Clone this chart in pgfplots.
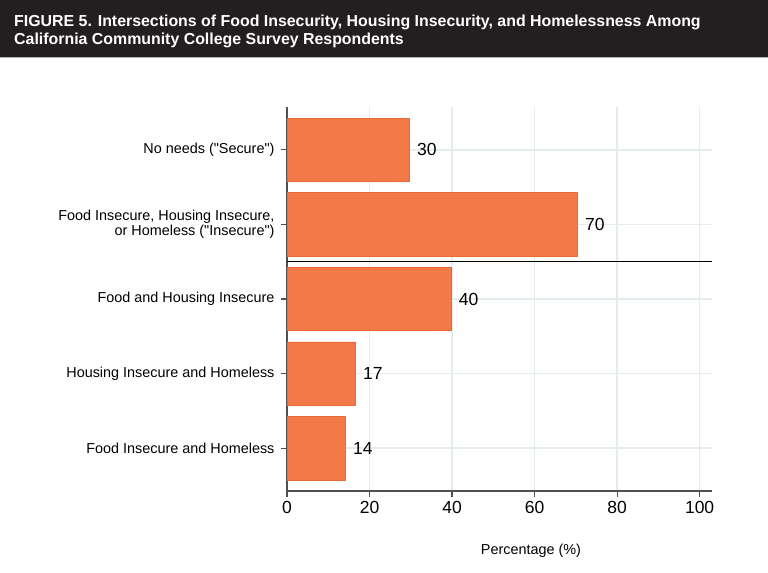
\documentclass[border=0pt]{standalone}
\usepackage{fontspec}
\setmainfont{Liberation Sans}
\usepackage{pgfplots}
\pgfplotsset{compat=1.18}

\definecolor{barfill}{RGB}{243,122,70}
\definecolor{baredge}{RGB}{236,104,55}
\definecolor{gridc}{RGB}{228,236,236}
\definecolor{titlebg}{RGB}{35,31,32}
\definecolor{spine}{RGB}{80,80,80}

\begin{document}
\begin{tikzpicture}
\path[use as bounding box] (0,0) rectangle (768bp,573bp);
% title bar
\fill[titlebg] (0,516bp) rectangle (768bp,573bp);
\draw[gray!60, line width=1bp] (0,515.5bp) -- (768bp,515.5bp);
\node[anchor=base west, text=white, inner sep=0pt,
      font=\fontsize{15.9bp}{18bp}\selectfont\bfseries] at (14bp,546.5bp)
  {FIGURE 5. Intersections of Food Insecurity, Housing Insecurity, and Homelessness Among};
\node[anchor=base west, text=white, inner sep=0pt,
      font=\fontsize{15.9bp}{18bp}\selectfont\bfseries] at (14bp,528.5bp)
  {California Community College Survey Respondents};

\begin{axis}[
    at={(287bp,82bp)}, anchor=south west,
    scale only axis,
    width=425bp, height=384bp,
    xbar,
    bar width=0.85,
    xmin=0, xmax=103,
    ymin=-0.575, ymax=4.575,
    y dir=reverse,
    ytick={0,1,2,3,4},
    yticklabels={{No needs (\textquotedbl Secure\textquotedbl)},
                 {Food Insecure, Housing Insecure,\\or Homeless (\textquotedbl Insecure\textquotedbl)},
                 {Food and Housing Insecure},
                 {Housing Insecure and Homeless},
                 {Food Insecure and Homeless}},
    yticklabel style={align=right, font=\fontsize{14.4bp}{15.5bp}\selectfont},
    xtick={0,20,40,60,80,100},
    xticklabel style={font=\fontsize{17.5bp}{19bp}\selectfont},
    /pgf/number format/assume math mode=true,
    axis lines*=left,
    axis line style={spine, line width=1.3bp, -},
    tick style={spine, line width=1.2bp},
    tick align=outside,
    major tick length=6bp,
    grid=major,
    grid style={gridc, line width=1.3bp},
    ytick pos=left, xtick pos=bottom,
    y tick label style={xshift=-3bp},
    x tick label style={yshift=-1bp},
    nodes near coords,
    point meta=explicit,
    nodes near coords style={font=\fontsize{17.5bp}{19bp}\selectfont, anchor=west, xshift=4bp,
        /pgf/number format/.cd, fixed, precision=0, assume math mode=true},
]
\addplot[fill=barfill, draw=baredge, line width=0.6bp] coordinates {
    (29.7,0) [29.7]
    (70.4,1) [70.4]
    (39.8,2) [39.8]
    (16.6,3) [16.6]
    (14.2,4) [14.2]
};
\draw[black, line width=1.3bp] (axis cs:0,1.5) -- (axis cs:103,1.5);
\end{axis}
\node[font=\fontsize{14.4bp}{16bp}\selectfont] at (531bp,22bp) {Percentage (\%)};
\end{tikzpicture}
\end{document}
